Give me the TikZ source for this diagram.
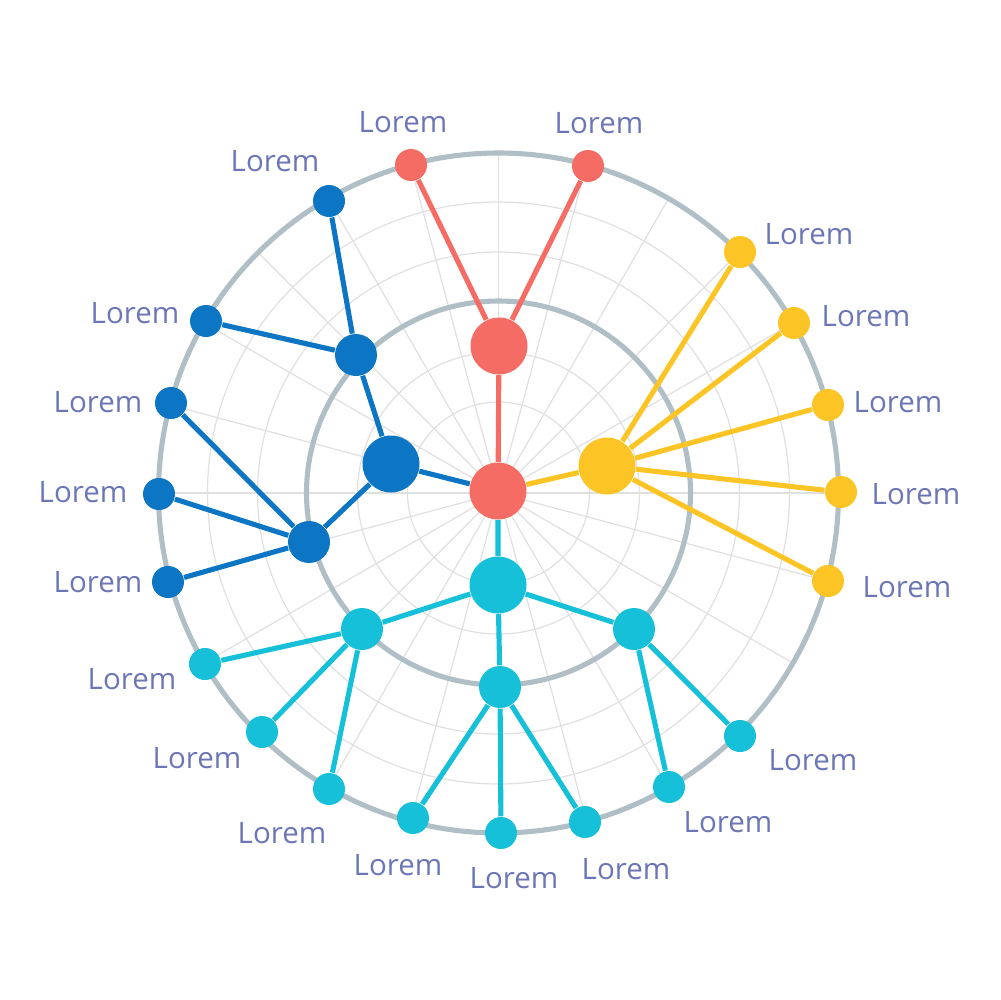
\documentclass[tikz,border=0pt]{standalone}
\usepackage{fontspec}
\setmainfont{Open Sans}
\usepackage{tikz}
\usetikzlibrary{calc}
\definecolor{netRed}{RGB}{244, 108, 100}
\definecolor{netYellow}{RGB}{253, 196, 37}
\definecolor{netBlue}{RGB}{12, 118, 196}
\definecolor{netCyan}{RGB}{22, 192, 216}
\definecolor{ringGrey}{RGB}{176, 190, 197}
\definecolor{gridGrey}{RGB}{224, 224, 224}
\definecolor{labelBlue}{RGB}{108, 118, 182}

\begin{document}
\begin{tikzpicture}[x=0.1mm, y=-0.1mm,
        hub/.style={circle, fill=#1, inner sep=0pt, minimum size=5.7mm},
        mid/.style={circle, fill=#1, inner sep=0pt, minimum size=4.2mm},
        leaf/.style={circle, fill=#1, inner sep=0pt, minimum size=3.2mm},
        link/.style={draw=#1, line width=1.45pt},
        lbl/.style={text=labelBlue, font=\fontsize{8.4}{10}\selectfont, inner sep=0pt}]
        \useasboundingbox (0,0) rectangle (1000,1000);
        \coordinate (O) at (498.5,493);

        % Grid
        \foreach \a in {0,15,...,345}
            \draw[gridGrey, line width=0.35pt] (O) -- ($(O)+(\a:340)$);
        \foreach \r in {91,141,241,291}
            \draw[gridGrey, line width=0.35pt] (O) circle[radius=\r];
        \draw[ringGrey, line width=1.45pt] (O) circle[radius=192];
        \draw[ringGrey, line width=1.45pt] (O) circle[radius=340];

        % Hubs
        \node[hub=netRed] (rc) at (498,491) {};
        \node[hub=netRed] (ru) at (499,346) {};
        \node[hub=netYellow] (yh) at (607,466) {};
        \node[hub=netBlue] (bh) at (391,464) {};
        \node[hub=netCyan] (ch) at (498,585) {};

        \node[mid=netBlue] (bm1) at (356,355) {};
        \node[mid=netBlue] (bm2) at (309,542) {};
        \node[mid=netCyan] (cm1) at (362,629) {};
        \node[mid=netCyan] (cm2) at (634,629) {};
        \node[mid=netCyan] (cm3) at (500,687) {};

        % Leaves
        \node[leaf=netRed] (r1) at (411,165) {};
        \node[leaf=netRed] (r2) at (588,166) {};
        \node[leaf=netYellow] (y1) at (740,252) {};
        \node[leaf=netYellow] (y2) at (794,323) {};
        \node[leaf=netYellow] (y3) at (828,405) {};
        \node[leaf=netYellow] (y4) at (841,492) {};
        \node[leaf=netYellow] (y5) at (828,581) {};
        \node[leaf=netBlue] (b1) at (329,201) {};
        \node[leaf=netBlue] (b2) at (206,321) {};
        \node[leaf=netBlue] (b3) at (171,403) {};
        \node[leaf=netBlue] (b4) at (159,494) {};
        \node[leaf=netBlue] (b5) at (168,582) {};
        \node[leaf=netCyan] (c1) at (205,664) {};
        \node[leaf=netCyan] (c2) at (262,732) {};
        \node[leaf=netCyan] (c3) at (329,789) {};
        \node[leaf=netCyan] (c4) at (413,818) {};
        \node[leaf=netCyan] (c5) at (501,833) {};
        \node[leaf=netCyan] (c6) at (585,822) {};
        \node[leaf=netCyan] (c7) at (669,787) {};
        \node[leaf=netCyan] (c8) at (740,736) {};

        % Links
        \draw[link=netRed] (rc) -- (ru) (ru) -- (r1) (ru) -- (r2);
        \draw[link=netYellow] (rc) -- (yh);
        \foreach \n in {y1,y2,y3,y4,y5}
            \draw[link=netYellow] (yh) -- (\n);
        \draw[link=netBlue] (rc) -- (bh) (bh) -- (bm1) (bh) -- (bm2)
            (bm1) -- (b1) (bm1) -- (b2);
        \foreach \n in {b3,b4,b5}
            \draw[link=netBlue] (bm2) -- (\n);
        \draw[link=netCyan] (rc) -- (ch) (ch) -- (cm1) (ch) -- (cm2) (ch) -- (cm3);
        \foreach \n in {c1,c2,c3}
            \draw[link=netCyan] (cm1) -- (\n);
        \foreach \n in {c4,c5,c6}
            \draw[link=netCyan] (cm3) -- (\n);
        \foreach \n in {c7,c8}
            \draw[link=netCyan] (cm2) -- (\n);

        % Labels
        \node[lbl] (lr1) at (403,122) {Lorem};
        \node[lbl] (lr2) at (599,123) {Lorem};
        \node[lbl] (ly1) at (809,234) {Lorem};
        \node[lbl] (ly2) at (866,316) {Lorem};
        \node[lbl] (ly3) at (898,402) {Lorem};
        \node[lbl] (ly4) at (916,494) {Lorem};
        \node[lbl] (ly5) at (907,587) {Lorem};
        \node[lbl] (lb1) at (275,161) {Lorem};
        \node[lbl] (lb2) at (135,313) {Lorem};
        \node[lbl] (lb3) at (98,402) {Lorem};
        \node[lbl] (lb4) at (83,492) {Lorem};
        \node[lbl] (lb5) at (98,582) {Lorem};
        \node[lbl] (lc1) at (132,679) {Lorem};
        \node[lbl] (lc2) at (197,758) {Lorem};
        \node[lbl] (lc3) at (282,833) {Lorem};
        \node[lbl] (lc4) at (398,865) {Lorem};
        \node[lbl] (lc5) at (514,878) {Lorem};
        \node[lbl] (lc6) at (626,869) {Lorem};
        \node[lbl] (lc7) at (728,822) {Lorem};
        \node[lbl] (lc8) at (813,760) {Lorem};
    \end{tikzpicture}
\end{document}
